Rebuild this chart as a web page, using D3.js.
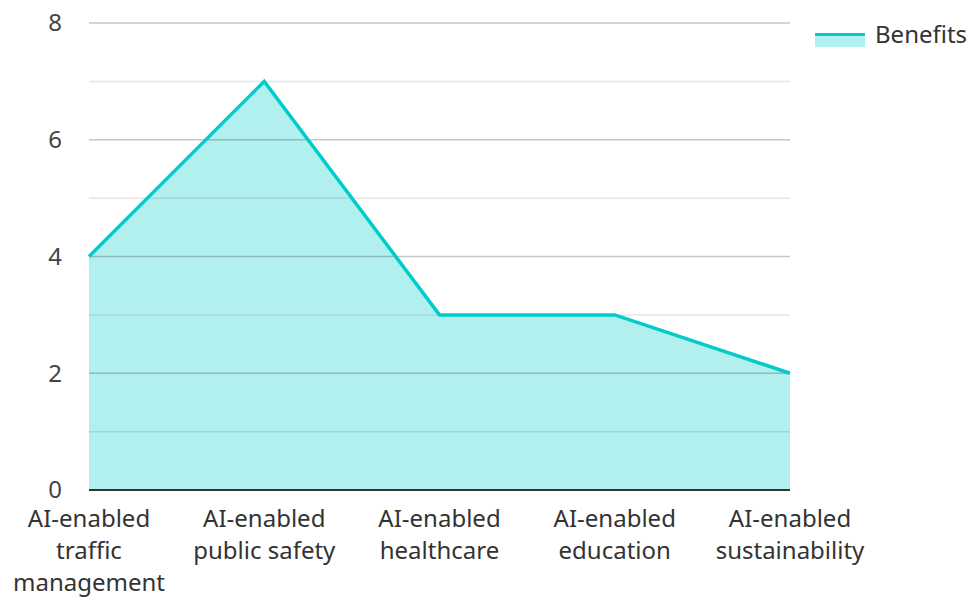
<!DOCTYPE html>
<html>
<head>
<meta charset="utf-8">
<script src="https://cdn.jsdelivr.net/npm/d3@7"></script>
<style>
  html, body { margin: 0; padding: 0; background: #fff; }
  svg { display: block; font-family: "Noto Sans", "Open Sans", sans-serif; }
</style>
</head>
<body>
<svg id="chart" width="972" height="597"></svg>
<script>
// data
const categories = [
  'AI-enabled traffic management',
  'AI-enabled public safety',
  'AI-enabled healthcare',
  'AI-enabled education',
  'AI-enabled sustainability'
]
const labelLines = [
  ['AI-enabled', 'traffic', 'management'],
  ['AI-enabled', 'public safety'],
  ['AI-enabled', 'healthcare'],
  ['AI-enabled', 'education'],
  ['AI-enabled', 'sustainability']
]
const benefits = [4, 7, 3, 3, 2]
const yTicks = [0, 2, 4, 6, 8]
const yMinorTicks = [1, 3, 5, 7]
const seriesName = 'Benefits'

;(function () {
  const svg = d3.select('#chart')
  const plot = { left: 89, right: 790, top: 23, bottom: 490 }
  const lineColor = '#00cccc'
  const fontSize = 24

  const x = d3.scalePoint().domain(categories).range([plot.left, plot.right])
  const y = d3.scaleLinear().domain([0, 8]).range([plot.bottom, plot.top])

  // area fill
  const area = d3.area()
    .x((d, i) => x(categories[i]))
    .y0(y(0))
    .y1(d => y(d))
  svg.append('path')
    .datum(benefits)
    .attr('d', area)
    .attr('fill', lineColor)
    .attr('fill-opacity', 0.3)

  // grid (over the fill, like the original)
  svg.append('g').selectAll('line')
    .data(yMinorTicks)
    .join('line')
    .attr('x1', plot.left).attr('x2', plot.right)
    .attr('y1', d => y(d)).attr('y2', d => y(d))
    .attr('stroke', '#000').attr('stroke-opacity', 0.1).attr('stroke-width', 1.5)

  svg.append('g').selectAll('line')
    .data(yTicks.filter(d => d !== 0))
    .join('line')
    .attr('x1', plot.left).attr('x2', plot.right)
    .attr('y1', d => y(d)).attr('y2', d => y(d))
    .attr('stroke', '#000').attr('stroke-opacity', 0.22).attr('stroke-width', 1.5)

  // line
  const line = d3.line()
    .x((d, i) => x(categories[i]))
    .y(d => y(d))
  svg.append('path')
    .datum(benefits)
    .attr('d', line)
    .attr('fill', 'none')
    .attr('stroke', lineColor)
    .attr('stroke-width', 3.5)

  // baseline
  svg.append('line')
    .attr('x1', plot.left).attr('x2', plot.right)
    .attr('y1', y(0)).attr('y2', y(0))
    .attr('stroke', '#333').attr('stroke-width', 2)

  // y labels
  svg.append('g').selectAll('text')
    .data(yTicks)
    .join('text')
    .attr('x', 62)
    .attr('y', d => y(d))
    .attr('dy', '0.35em')
    .attr('text-anchor', 'end')
    .attr('font-size', fontSize)
    .attr('fill', '#444')
    .text(d => d)

  // x labels
  svg.append('g').selectAll('text')
    .data(categories)
    .join('text')
    .attr('text-anchor', 'middle')
    .attr('font-size', fontSize)
    .attr('fill', '#333')
    .each(function (d, i) {
      d3.select(this).selectAll('tspan')
        .data(labelLines[i])
        .join('tspan')
        .attr('x', x(d))
        .attr('y', (t, j) => 519 + j * 32)
        .attr('dy', '0.35em')
        .text(t => t)
    })

  // legend
  const lg = svg.append('g').attr('transform', 'translate(815,33)')
  lg.append('rect')
    .attr('x', 0).attr('y', 0).attr('width', 50).attr('height', 14)
    .attr('fill', lineColor).attr('fill-opacity', 0.3)
  lg.append('line')
    .attr('x1', 0).attr('x2', 50).attr('y1', 1.5).attr('y2', 1.5)
    .attr('stroke', lineColor).attr('stroke-width', 3)
  lg.append('text')
    .attr('x', 60).attr('y', 2)
    .attr('dy', '0.35em')
    .attr('font-size', fontSize)
    .attr('fill', '#333')
    .text(seriesName)
})()
</script>
</body>
</html>
